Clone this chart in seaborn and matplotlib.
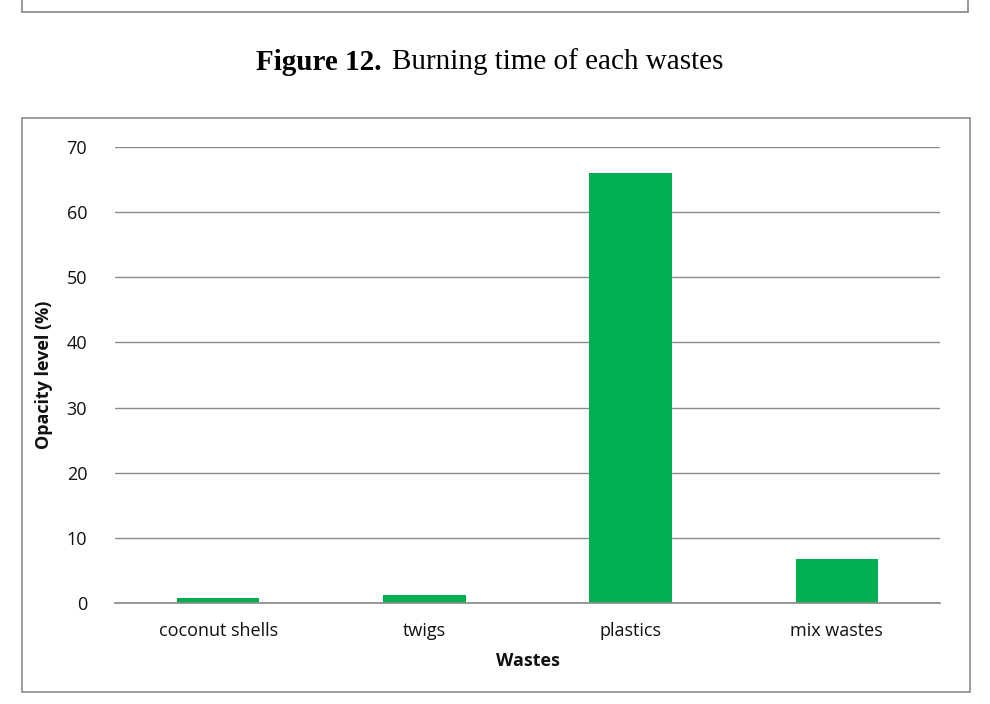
import matplotlib
matplotlib.use("Agg")
import matplotlib.pyplot as plt
import seaborn as sns
import pandas as pd
from matplotlib.patches import Rectangle
from matplotlib.lines import Line2D

categories = ["coconut shells", "twigs", "plastics", "mix wastes"]
values = [0.7, 1.3, 66.0, 6.8]
yticks = [0, 10, 20, 30, 40, 50, 60, 70]

sns.set_theme(style="white")
plt.rcParams['font.family'] = ['Open Sans', 'DejaVu Sans']

W, H = 990, 704
fig = plt.figure(figsize=(9.9, 7.04), dpi=100)
fig.patch.set_facecolor("white")

def fx(x): return x / W
def fy(y): return 1 - y / H

for l in [Line2D([fx(22), fx(22)], [fy(0), fy(12)]),
          Line2D([fx(968), fx(968)], [fy(0), fy(12)]),
          Line2D([fx(22), fx(968)], [fy(12), fy(12)])]:
    l.set_color("#888888"); l.set_linewidth(1.2); l.set_transform(fig.transFigure)
    fig.add_artist(l)

fig.add_artist(Rectangle((fx(22), fy(692)), fx(970) - fx(22), fy(118) - fy(692),
                         transform=fig.transFigure, fill=False, edgecolor="#8c8c8c", linewidth=1.2))

fig.text(fx(381), fy(62), "Figure 12.", ha="right", va="center", fontsize=21,
         fontweight="bold", color="black", family=["Liberation Serif", "DejaVu Serif"])
fig.text(fx(392), fy(62), "Burning time of each wastes", ha="left", va="center", fontsize=21,
         color="black", family=["Liberation Serif", "DejaVu Serif"])

ax = fig.add_axes([fx(115), fy(603), fx(940) - fx(115), fy(147) - fy(603)])
df = pd.DataFrame({"Wastes": categories, "Opacity": values})
sns.barplot(data=df, x="Wastes", y="Opacity", color="#00b050", saturation=1, width=0.4,
            linewidth=0, ax=ax)
ax.set_ylim(0, 70)
ax.set_yticks(yticks)
ax.yaxis.grid(True, color="#8c8c8c", linewidth=1)
ax.set_axisbelow(True)
for s in ["top", "right", "left"]:
    ax.spines[s].set_visible(False)
ax.spines["bottom"].set_color("#8c8c8c")
ax.tick_params(axis="both", labelsize=13, length=0, colors="#111111")
ax.tick_params(axis="x", pad=14)
ax.tick_params(axis="y", pad=20)
ax.set_xlabel("Wastes", fontsize=13, fontweight="bold", labelpad=8, color="#111111")
ax.set_ylabel("Opacity level (%)", fontsize=13, fontweight="bold", labelpad=10, color="#111111")

fig.savefig("out.png", dpi=100)
